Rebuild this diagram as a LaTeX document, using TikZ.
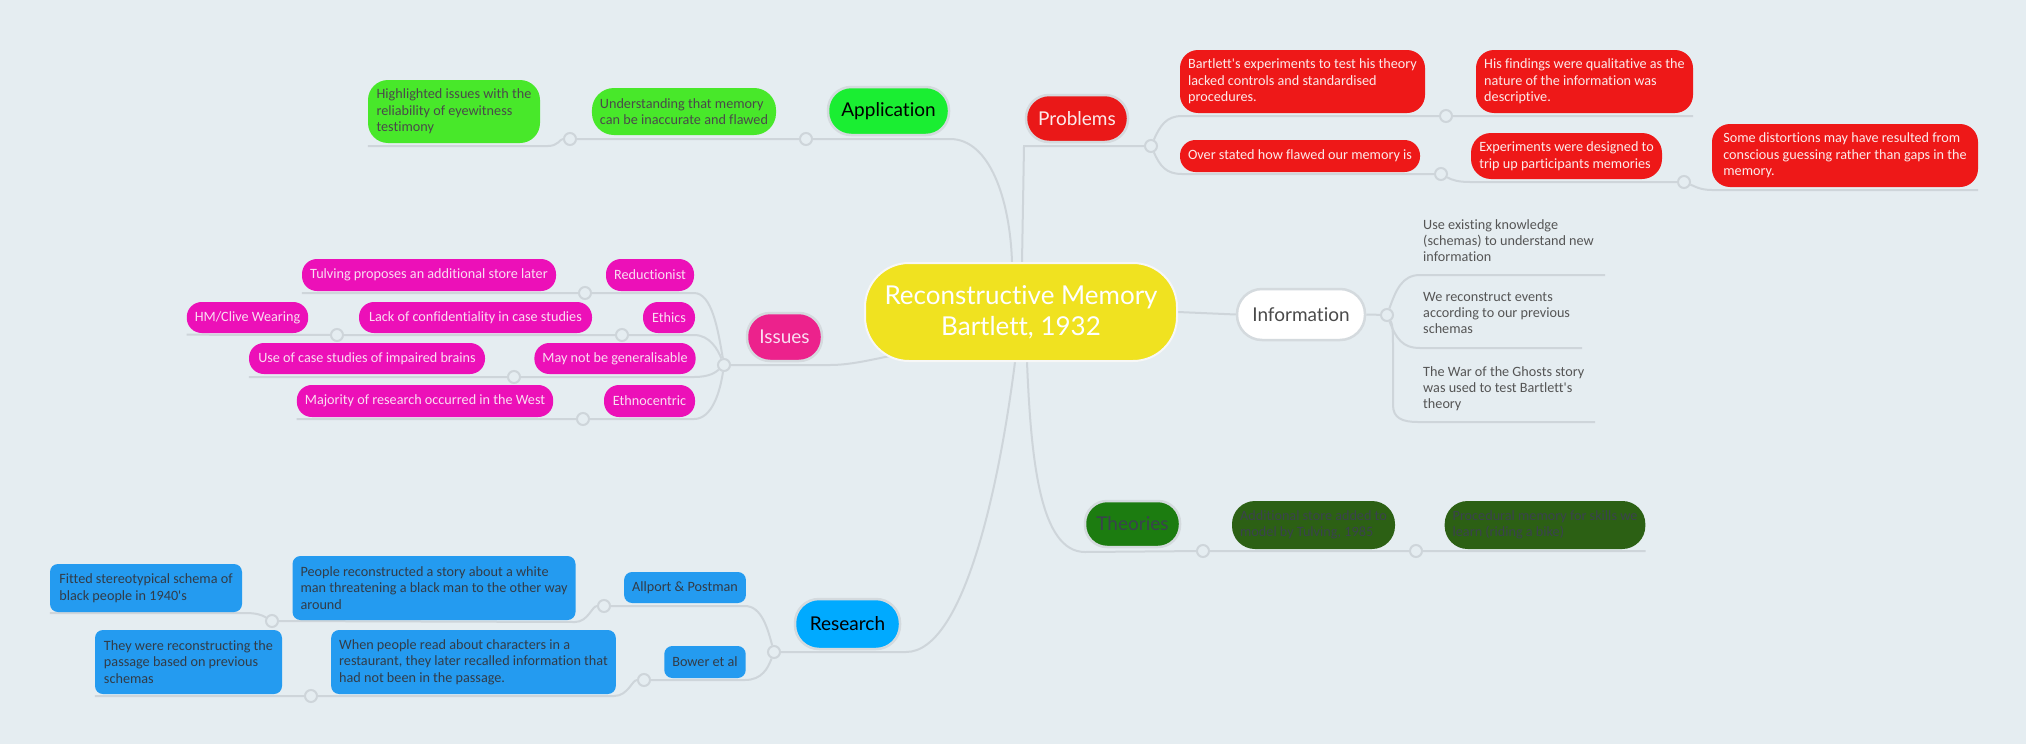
\documentclass[tikz,border=0pt]{standalone}
\usepackage{fontspec}
\setmainfont{Lato}[Ligatures=CommonOff]
\newfontfamily\cfont{Carlito}[Ligatures=CommonOff]
\pgfdeclarelayer{back}
\pgfdeclarelayer{lines}
\pgfsetlayers{back,lines,main}
\definecolor{bgc}{RGB}{229,237,241}
\definecolor{linec}{RGB}{206,213,218}
\definecolor{nborder}{RGB}{212,218,222}
\definecolor{yelc}{RGB}{240,226,32}
\definecolor{appc}{RGB}{26,238,50}
\definecolor{lgreen}{RGB}{72,232,42}
\definecolor{redmain}{RGB}{234,24,24}
\definecolor{redsmall}{RGB}{238,24,24}
\definecolor{pinkmain}{RGB}{236,34,140}
\definecolor{magsmall}{RGB}{236,16,184}
\definecolor{bluemain}{RGB}{0,170,255}
\definecolor{bluesmall}{RGB}{36,155,240}
\definecolor{dgmain}{RGB}{28,124,16}
\definecolor{dgsmall}{RGB}{44,96,20}
\definecolor{txtgray}{RGB}{74,74,74}
\definecolor{redtxt}{RGB}{252,234,234}
\definecolor{pinktxt}{RGB}{250,222,242}
\definecolor{bluetxt}{RGB}{50,60,72}
\definecolor{dgtxt}{RGB}{58,66,78}
\definecolor{infotxt}{RGB}{85,85,85}
\tikzset{
  conn/.style={draw=linec, line width=2pt},
  dot/.style={circle, draw=linec, fill=bgc, line width=2pt, minimum size=12pt, inner sep=0pt},
  mainnode/.style={draw=nborder, line width=2.5pt, font=\fontsize{19}{22}\selectfont, inner sep=0pt},
  smallbox/.style={font=\cfont\fontsize{14.2}{16.5}\selectfont, align=left, inner xsep=8pt, inner ysep=0pt},
  pillbox/.style={font=\cfont\fontsize{14.2}{16.5}\selectfont, align=center, inner xsep=8pt, inner ysep=0pt, rounded corners=15pt},
  redbox/.style={smallbox, fill=redsmall, text=redtxt},
  magbox/.style={pillbox, fill=magsmall, text=pinktxt},
  bluebox/.style={smallbox, fill=bluesmall, text=bluetxt, rounded corners=8pt},
  lgbox/.style={smallbox, fill=lgreen, text=txtgray},
  dgbox/.style={smallbox, fill=dgsmall, text=dgtxt, rounded corners=23pt},
  infotext/.style={font=\cfont\fontsize{14.2}{16}\selectfont, align=left, inner sep=0pt, anchor=north west, text=infotxt},
}
\begin{document}
\begin{tikzpicture}[x=1pt, y=-1pt]
\begin{pgfonlayer}{back}
\fill[bgc] (0,0) rectangle (2026,744);
\end{pgfonlayer}
\useasboundingbox (0,0) rectangle (2026,744);

% central
\node[fill=yelc, draw=white!94!gray, line width=2pt, rounded corners=44pt, minimum width=312pt, minimum height=98pt, text=white, font=\fontsize{26}{31}\selectfont, align=center, inner sep=0pt] (cen) at (1021,312) {Reconstructive Memory\\Bartlett, 1932};

% main branches
\node[mainnode, fill=appc, text=black, minimum width=121pt, minimum height=48pt, rounded corners=23pt] (app) at (888.5,111) {Application};
\node[mainnode, fill=redmain, text=redtxt, minimum width=102pt, minimum height=47pt, rounded corners=23pt] (pro) at (1077,118.5) {Problems};
\node[mainnode, fill=white, text=txtgray, minimum width=128pt, minimum height=51pt, rounded corners=25pt] (inf) at (1301,314.5) {Information};
\node[mainnode, fill=pinkmain, text=pinktxt, minimum width=75pt, minimum height=48pt, rounded corners=23pt] (iss) at (784.5,337) {Issues};
\node[mainnode, fill=bluemain, text=black, minimum width=105pt, minimum height=50pt, rounded corners=24pt] (res) at (847.5,624) {Research};
\node[mainnode, fill=dgmain, text=dgtxt, minimum width=95pt, minimum height=46pt, rounded corners=22pt] (theo) at (1132.5,524) {Theories};

% application children
\node[lgbox, rounded corners=22pt, minimum width=184pt, minimum height=47pt] (und) at (684,111.5) {Understanding that memory\\can be inaccurate and flawed};
\node[lgbox, rounded corners=20pt, minimum width=172pt, minimum height=63pt] (hig) at (454,111.5) {Highlighted issues with the\\reliability of eyewitness\\testimony};

% problems children
\node[redbox, rounded corners=18pt, minimum width=245pt, minimum height=63pt] (bar) at (1302.5,81.5) {Bartlett's experiments to test his theory\\lacked controls and standardised\\procedures.};
\node[redbox, rounded corners=18pt, minimum width=217pt, minimum height=63pt] (his) at (1584.5,81.5) {His findings were qualitative as the\\nature of the information was\\descriptive.};
\node[redbox, rounded corners=15.5pt, minimum width=240pt, minimum height=32pt] (ove) at (1300,156) {Over stated how flawed our memory is};
\node[redbox, rounded corners=20pt, minimum width=191pt, minimum height=46pt] (exper) at (1566.5,156) {Experiments were designed to\\trip up participants memories};
\node[redbox, rounded corners=18pt, minimum width=266pt, minimum height=63pt] (som) at (1845,155.5) {Some distortions may have resulted from\\conscious guessing rather than gaps in the\\memory.};

% information texts
\node[infotext] (i1) at (1423,219) {Use existing knowledge\\(schemas) to understand new\\information};
\node[infotext] (i2) at (1423,292) {We reconstruct events\\according to our previous\\schemas};
\node[infotext] (i3) at (1423,366) {The War of the Ghosts story\\was used to test Bartlett's\\theory};

% issues children
\node[magbox, minimum width=254pt, minimum height=32pt] (tul) at (429,275) {Tulving proposes an additional store later};
\node[magbox, minimum width=88pt, minimum height=32pt] (reduc) at (650,275) {Reductionist};
\node[magbox, minimum width=121pt, minimum height=31pt] (hm) at (247.5,317.5) {HM/Clive Wearing};
\node[magbox, minimum width=233pt, minimum height=31pt] (lac) at (475.5,317.5) {Lack of confidentiality in case studies};
\node[magbox, minimum width=52pt, minimum height=31pt] (eth) at (669,317.5) {Ethics};
\node[magbox, minimum width=236pt, minimum height=31pt] (use) at (367,358.5) {Use of case studies of impaired brains};
\node[magbox, minimum width=160pt, minimum height=31pt] (may) at (615,358.5) {May not be generalisable};
\node[magbox, minimum width=256pt, minimum height=32pt] (maj) at (425,401) {Majority of research occurred in the West};
\node[magbox, minimum width=91pt, minimum height=32pt] (ethn) at (649.5,401) {Ethnocentric};

% research children
\node[bluebox, minimum width=192pt, minimum height=48pt] (fit) at (146,588) {Fitted stereotypical schema of\\black people in 1940's};
\node[bluebox, minimum width=282pt, minimum height=64pt] (peo) at (434,588) {People reconstructed a story about a white\\man threatening a black man to the other way\\around};
\node[bluebox, align=center, minimum width=120pt, minimum height=31pt] (all) at (685,587.5) {Allport \& Postman};
\node[bluebox, minimum width=187pt, minimum height=64pt] (the) at (188.5,662) {They were reconstructing the\\passage based on previous\\schemas};
\node[bluebox, minimum width=283pt, minimum height=64pt] (whe) at (473.5,662) {When people read about characters in a\\restaurant, they later recalled information that\\had not been in the passage.};
\node[bluebox, align=center, minimum width=80pt, minimum height=32pt] (bow) at (705,662) {Bower et al};

% theories children
\node[dgbox, minimum width=163pt, minimum height=48pt] (add) at (1313.5,525) {Additional store added to\\model by Tulving, 1985};
\node[dgbox, minimum width=200pt, minimum height=48pt] (prc) at (1545,525) {Procedural memory for skills we\\learn (riding a bike)};

% junction dots
\node[dot] (c_app) at (806,139) {};
\node[dot] (c_und) at (570,139) {};
\node[dot] (c_pro) at (1151,146) {};
\node[dot] (c_bar) at (1446,116) {};
\node[dot] (c_ove) at (1441,174) {};
\node[dot] (c_exp) at (1684,182) {};
\node[dot] (c_inf) at (1387,315) {};
\node[dot] (c_iss) at (724,365) {};
\node[dot] (c_tul) at (585,293) {};
\node[dot] (c_hm) at (337,335) {};
\node[dot] (c_lac) at (622,335) {};
\node[dot] (c_use) at (514,377) {};
\node[dot] (c_maj) at (583,419) {};
\node[dot] (c_res) at (774,652) {};
\node[dot] (c_all) at (604,606) {};
\node[dot] (c_fit) at (272,621) {};
\node[dot] (c_bow) at (644,680) {};
\node[dot] (c_the) at (311,696) {};
\node[dot] (c_theo) at (1203,551) {};
\node[dot] (c_add) at (1416,551) {};

% free ends
\coordinate (e_som) at (1978,190);
\coordinate (e_i1) at (1605,275);
\coordinate (e_i2) at (1582,348);
\coordinate (e_i3) at (1595,422);

\begin{pgfonlayer}{lines}
% application
\draw[conn] (c_und) -- (c_app) -- (950,139) .. controls (990,139) and (1010,200) .. ([xshift=-9pt]cen.north);
\draw[conn] ([yshift=-3pt]hig.south west) -- (548,146) .. controls (558,146) and (560,139) .. (c_und);
% problems
\draw[conn] ([xshift=1pt]cen.north) -- (1024,146) -- (c_pro);
\draw[conn] (c_pro) .. controls (1160,126) and (1166,116) .. (1182,116) -- (c_bar) -- (his.south east |- c_bar);
\draw[conn] (c_pro) .. controls (1160,166) and (1166,174) .. (1182,174) -- (c_ove) .. controls (1452,180) and (1458,182) .. (1470,182) -- (c_exp) .. controls (1694,186) and (1700,190) .. (1712,190) -- (e_som);
% information
\draw[conn] (cen.east) -- (inf.west);
\draw[conn] (inf.east) -- (c_inf);
\draw[conn] (c_inf) .. controls (1396,290) and (1402,275) .. (1420,275) -- (e_i1);
\draw[conn] (c_inf) .. controls (1396,338) and (1402,348) .. (1420,348) -- (e_i2);
\draw[conn] (c_inf) .. controls (1393,325) and (1393,335) .. (1393,350) -- (1393,405) .. controls (1393,418) and (1402,422) .. (1418,422) -- (e_i3);
% issues
\draw[conn] (c_iss) -- (830,365) .. controls (850,365) and (870,360) .. (895,355);
\draw[conn] (c_iss) .. controls (718,330) and (712,293) .. (694,293) -- (c_tul) -- ([yshift=-2pt]tul.south west);
\draw[conn] (c_iss) .. controls (718,350) and (710,335) .. (694,335) -- (c_lac) -- (c_hm) -- ([yshift=-1.5pt]hm.south west);
\draw[conn] (c_iss) .. controls (716,372) and (710,377) .. (694,377) -- (c_use) -- ([yshift=-3pt]use.south west);
\draw[conn] (c_iss) .. controls (720,392) and (712,419) .. (694,419) -- (c_maj) -- ([yshift=-2pt]maj.south west);
% research
\draw[conn] (c_res) -- (906,652) .. controls (965,652) and (1000,480) .. ([xshift=-6pt]cen.south);
\draw[conn] (c_res) .. controls (768,630) and (762,606) .. (745,606) -- (c_all) .. controls (592,606) and (588,622) .. (575,622) -- (c_fit) .. controls (262,615) and (256,613) .. (246,613) -- ([yshift=-1pt]fit.south west);
\draw[conn] (c_res) .. controls (768,668) and (762,680) .. (745,680) -- (c_bow) .. controls (632,680) and (628,696) .. (614,696) -- (c_the) -- ([yshift=-2pt]the.south west);
% theories
\draw[conn] ([xshift=6pt]cen.south) .. controls (1031,460) and (1040,552) .. (1085,552) -- (c_theo) -- (c_add) -- (prc.south east |- c_add);
\end{pgfonlayer}
\end{tikzpicture}
\end{document}
